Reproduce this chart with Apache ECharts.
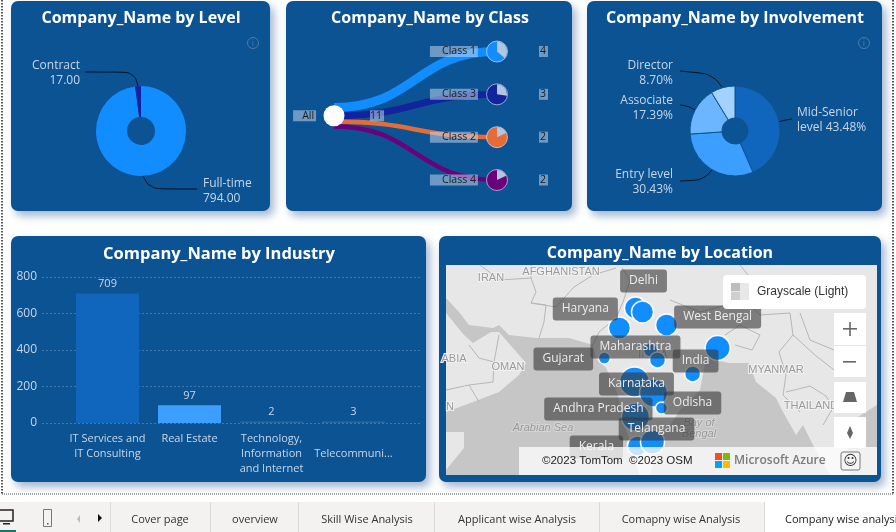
<!DOCTYPE html>
<html><head><meta charset="utf-8">
<script src="https://cdn.jsdelivr.net/npm/echarts@6/dist/echarts.min.js"></script>
<style>html,body{margin:0;padding:0;background:#fff;overflow:hidden}#c{width:896px;height:532px}</style>
</head><body><div id="c"></div>
<script>
// ---- data ----
const levelNames = ['Full-time', 'Contract'];
const levelValues = [794, 17];
const involvementNames = ['Mid-Senior level', 'Entry level', 'Associate', 'Director'];
const involvementValues = [43.48, 30.43, 17.39, 8.70];
const classNames = ['Class 1', 'Class 3', 'Class 2', 'Class 4'];
const classValues = [4, 3, 2, 2];
const classTotal = 11;
const industryNames = ['IT Services and\nIT Consulting', 'Real Estate', 'Technology,\nInformation\nand Internet', '\nTelecommuni...'];
const industryValues = [709, 97, 2, 3];
const yTicks = [0, 200, 400, 600, 800];
const bubbleLon = [77.2, 78.16, 75.01, 81.45, 88.43, 85.01, 72.95, 79.25, 80.21, 77.06, 79.67, 80.76, 77.2, 77.47, 79.53];
const bubbleLat = [28.6, 28.03, 25.74, 26.17, 22.89, 19.17, 21.46, 22.6, 21.17, 18.03, 16.46, 14.31, 13.03, 8.89, 9.46];
const bubbleCount = [121, 121, 121, 121, 156, 64, 36, 49, 64, 225, 196, 36, 196, 100, 144];
const placeNames = ['Delhi', 'Haryana', 'West Bengal', 'Maharashtra', 'Gujarat', 'India', 'Karnataka', 'Odisha', 'Andhra Pradesh', 'Telangana', 'Kerala'];
const placeLon = [78.3, 70.35, 88.43, 77.2, 67.34, 85.42, 77.34, 85.0, 72.13, 80.08, 71.86];
const placeLat = [32.6, 28.6, 27.46, 23.17, 21.46, 21.17, 17.89, 15.17, 14.31, 11.46, 8.89];
const tabNames = ['Cover page', 'overview', 'Skill Wise Analysis', 'Applicant wise Analysis', 'Comapny wise Analysis'];

// ---- styles ----
const FONT = '"Open Sans", sans-serif';
const NAVY = '#0c5394', PALE = '#c9d6e6';
const classColors = ['#118dff', '#12239e', '#e66c37', '#6b007b'];
const levelColors = ['#118dff', '#12239e'];
const involvementColors = ['#0f66bc', '#3c9eff', '#6cb5ff', '#a3d2ff'];
const barColors = ['#0f66bc', '#3c9eff', '#2a679f', '#2a679f'];

const chart = echarts.init(document.getElementById('c'), null, {renderer: 'canvas'});
const g = [];
const panel = (x, y, w, h) => g.push({type: 'rect', z: -5, shape: {x, y, width: w, height: h, r: 7},
  style: {fill: NAVY, shadowBlur: 9, shadowOffsetX: 4, shadowOffsetY: 5, shadowColor: 'rgba(50,95,150,.45)'}});
const text = (x, y, t, o = {}, z = 30) => g.push({type: 'text', z, x, y, style: Object.assign({text: t, font: `12px ${FONT}`, fill: '#222', textAlign: 'center', textVerticalAlign: 'middle'}, o)});
const line = (pts, o, z = -2) => g.push({type: 'polyline', z, shape: {points: pts}, style: Object.assign({stroke: '#b7b7b7', lineWidth: 1, fill: null}, o)});
const poly = (pts, fill, z = -3) => g.push({type: 'polygon', z, shape: {points: pts}, style: {fill}});
const rect = (x, y, w, h, fill, z = 30, r = 0, extra = {}) => g.push({type: 'rect', z, shape: {x, y, width: w, height: h, r}, style: Object.assign({fill}, extra)});

// dotted report border
line([[2, 0], [2, 494]], {stroke: '#555', lineWidth: 2, lineDash: [1.5, 1.5]}, -6);
line([[893, 0], [893, 494]], {stroke: '#555', lineWidth: 2, lineDash: [1.5, 1.5]}, -6);
line([[2, 494], [893, 494]], {stroke: '#555', lineWidth: 1, lineDash: [1, 1]}, -6);

panel(11, 1, 259, 210); panel(286, 1, 286, 210); panel(587, 1, 295, 210); panel(11, 236, 415, 246); panel(439, 236, 442, 246);
const titleStyle = {font: `700 16px ${FONT}`, fill: '#fff'};
text(141, 18, 'Company_Name by Level', titleStyle);
text(430, 18, 'Company_Name by Class', titleStyle);
text(735, 18, 'Company_Name by Involvement', titleStyle);
text(219, 254, 'Company_Name by Industry', {font: `700 16.5px ${FONT}`, fill: '#fff'});
text(660, 253, 'Company_Name by Location', titleStyle);
// info icons
[[253, 43], [864, 43]].forEach(([x, y]) => {
  g.push({type: 'circle', z: 1, shape: {cx: x, cy: y, r: 5.5}, style: {fill: 'none', stroke: '#4d7aa8', lineWidth: 1}});
  text(x, y, 'i', {font: `9px ${FONT}`, fill: '#4d7aa8'}, 1);
});

// map base
const MX = 446, MY = 265, MW = 431, MH = 210;
rect(MX, MY, MW, MH, '#e7e7e7', -4);
const SEA = '#c6c6c6';
poly([[446,298],[459,312],[469,325],[493,328],[499,325],[509,335],[536,338],[569,338],[593,345],[596,358],[606,368],[612,380],[618,395],[623,422],[633,448],[639,475],[446,475],[446,470],[464,448],[464,432],[446,432],[446,412],[473,402],[499,392],[519,375],[526,363],[513,348],[499,332],[491,332],[473,343],[464,335],[446,313]], SEA);
poly([[650,475],[660,440],[680,410],[700,390],[706,358],[729,363],[749,363],[756,382],[776,398],[783,412],[796,435],[803,425],[813,445],[830,475]], SEA);
poly([[845,425],[877,405],[877,475],[850,475]], SEA);
[[[531,265],[531,278],[536,292],[531,303],[546,305],[544,322],[539,338]],
 [[531,303],[556,307],[574,287],[593,275],[616,268]],
 [[593,345],[599,332],[616,318],[623,302],[630,280],[622,268]],
 [[446,390],[469,385],[479,402]], [[469,345],[479,358],[494,362],[499,335]], [[494,362],[493,382],[469,385]],
 [[480,265],[500,280],[531,278]],
 [[760,315],[790,313],[793,335],[779,352],[786,375],[783,395],[800,412]],
 [[786,392],[810,386],[826,396],[833,408],[823,425]],
 [[670,300],[700,312],[745,300],[760,315]], [[735,345],[752,350],[760,335],[740,325],[725,335]],
 [[800,313],[810,340],[834,350]], [[793,335],[815,355],[834,370]],
 [[740,265],[760,290],[790,300],[834,275]]
].forEach(p => line(p));
const mapLbl = (x, y, t, extra = {}) => text(x, y, t, Object.assign({font: `11px "Liberation Sans", sans-serif`, fill: '#9a9a9a', stroke: '#f2f2f2', lineWidth: 2}, extra), -1);
mapLbl(491, 278, 'IRAN'); mapLbl(561, 272, 'AFGHANISTAN'); mapLbl(454, 359, 'ABIA'); mapLbl(508, 367, 'OMAN');
mapLbl(450, 407, 'N'); mapLbl(776, 370, 'MYANMAR'); mapLbl(811, 406, 'THAILAND'); mapLbl(653, 355, 'INDIA');
mapLbl(543, 428, 'Arabian Sea', {font: `italic 11px "Liberation Sans", sans-serif`, fill: '#999', stroke: '#d6d6d6'});
mapLbl(699, 428, 'Bay of\nBengal', {font: `italic 11px "Liberation Sans", sans-serif`, fill: '#999', stroke: '#d6d6d6'});

// map overlays
rect(519, 447, 358, 28, 'rgba(255,255,255,.76)');
text(542, 461, '©2023 TomTom  ©2023 OSM', {font: `11.5px "Liberation Sans", sans-serif`, fill: '#222', textAlign: 'left'}, 31);
rect(715, 453, 7, 7, '#f25022', 31); rect(723, 453, 7, 7, '#7fba00', 31); rect(715, 461, 7, 7, '#00a4ef', 31); rect(723, 461, 7, 7, '#ffb900', 31);
text(734, 461, 'Microsoft Azure', {font: `600 12px "Open Sans", sans-serif`, fill: '#7a7a7a', textAlign: 'left'}, 31);
rect(841, 452, 19, 18, '#f5f5f5', 31, 2, {stroke: '#777', lineWidth: 1});
text(850.5, 461, '☺', {font: `14px "DejaVu Sans", sans-serif`, fill: '#333'}, 32);
rect(723, 275, 143, 34, '#fff', 30, 4);
rect(731, 283, 18, 17, '#e8e8e8', 31, 1); rect(731, 283, 9, 8, '#bdbdbd', 32); rect(731, 292, 9, 8, '#cfcfcf', 32);
text(757, 292, 'Grayscale (Light)', {font: `12px "Liberation Sans", sans-serif`, fill: '#333', textAlign: 'left'}, 31);
rect(834, 313, 32, 32, '#fff'); rect(834, 346, 32, 31, '#fff'); rect(834, 382, 32, 31, '#fff'); rect(834, 417, 32, 31, '#fff');
rect(843, 328, 14, 1.6, '#666', 31); rect(849.2, 322, 1.6, 14, '#666', 31); rect(843, 361, 13, 1.6, '#666', 31);
g.push({type: 'polygon', z: 31, shape: {points: [[846, 392], [854, 392], [857, 402], [843, 402]]}, style: {fill: '#666'}});
g.push({type: 'polygon', z: 31, shape: {points: [[850, 426], [853, 433], [850, 439], [847, 433]]}, style: {fill: '#666'}});

// tab bar
rect(0, 502, 896, 30, '#f3f2f1', -4);
rect(764, 502, 132, 30, '#fff', -3);
[110, 210, 298, 434, 599, 764].forEach(x => rect(x, 502, 1, 30, '#dcdad8', -2));
const tabX = [160, 255, 367, 517, 681];
tabNames.forEach((t, i) => text(tabX[i], 520, t, {font: `11px ${FONT}`, fill: '#333'}, 1));
text(785, 520, 'Company wise analysis', {font: `11px ${FONT}`, fill: '#222', textAlign: 'left'}, 1);
g.push({type: 'rect', z: 1, shape: {x: -2, y: 510, width: 15, height: 11}, style: {fill: 'none', stroke: '#222', lineWidth: 1.5}});
rect(3, 523, 7, 1.5, '#222', 1);
rect(0, 530, 16, 2, '#117865', 1);
g.push({type: 'rect', z: 1, shape: {x: 43.5, y: 509.5, width: 8, height: 17}, style: {fill: 'none', stroke: '#777', lineWidth: 1}});
rect(47, 523, 1.5, 1.5, '#555', 1);
g.push({type: 'polygon', z: 1, shape: {points: [[80, 515], [80, 523], [77, 519]]}, style: {fill: '#bbb'}});
g.push({type: 'polygon', z: 1, shape: {points: [[98, 514], [98, 522], [102, 518]]}, style: {fill: '#111'}});

// pie label placement
const levelPlace = [
  {x: 203, y: 191, align: 'left', verticalAlign: 'middle', labelLinePoints: [[143, 176], [150, 189], [197, 189]]},
  {x: 80, y: 73.5, align: 'right', verticalAlign: 'middle', labelLinePoints: [[138, 86], [134, 72], [85, 72]]}];
const invPlace = [
  {x: 797, y: 120, align: 'left', verticalAlign: 'middle', labelLinePoints: [[778, 122], [785, 120], [792, 119]]},
  {x: 673, y: 182, align: 'right', verticalAlign: 'middle', labelLinePoints: [[712, 170], [703, 180], [680, 181]]},
  {x: 673, y: 108, align: 'right', verticalAlign: 'middle', labelLinePoints: [[695, 110], [688, 106], [680, 105]]},
  {x: 673, y: 73.5, align: 'right', verticalAlign: 'middle', labelLinePoints: [[722, 87], [712, 74], [680, 71]]}];
const pieCommon = {type: 'pie', startAngle: 90, clockwise: true, silent: true,
  label: {show: true, position: 'outer', color: PALE, fontFamily: FONT, fontSize: 12, lineHeight: 15, overflow: 'none'},
  labelLine: {show: true, smooth: .4, lineStyle: {color: '#06101c', width: 1}}};

const option = {
  animation: false,
  backgroundColor: '#fff',
  textStyle: {fontFamily: FONT},
  graphic: {elements: g},
  grid: [
    {left: 42, width: 378, top: 277, height: 146},
    {left: 66.5, width: 328, top: 277, height: 146},
    {left: 285.1, width: 277.1, top: 51.5, height: 128.5},
    {left: MX, width: MW, top: MY, height: MH}
  ],
  xAxis: [
    {gridIndex: 0, type: 'value', show: false, min: 0, max: 1},
    {gridIndex: 1, type: 'category', data: industryNames,
      axisLine: {show: false}, axisTick: {show: false},
      axisLabel: {interval: 0, color: PALE, fontSize: 11, lineHeight: 15, margin: 8, fontFamily: FONT, hideOverlap: false}},
    {gridIndex: 2, type: 'value', show: false, min: -0.3, max: 1.4},
    {gridIndex: 3, type: 'value', show: false, min: 51.31, max: 110.21}
  ],
  yAxis: [
    {gridIndex: 0, type: 'value', min: yTicks[0], max: yTicks[yTicks.length - 1], interval: 200,
      axisLine: {show: false}, axisTick: {show: false},
      axisLabel: {color: PALE, fontSize: 12, margin: 5, fontFamily: FONT},
      splitLine: {lineStyle: {color: '#3f78ad', type: [2, 2], width: 1}}},
    {gridIndex: 1, type: 'value', show: false, min: 0, max: 800, splitLine: {show: false}},
    {gridIndex: 2, type: 'value', show: false, min: 0, max: 3, inverse: true, splitLine: {show: false}},
    {gridIndex: 3, type: 'value', show: false, min: 4.74, max: 34.74, splitLine: {show: false}}
  ],
  series: [
    Object.assign({}, pieCommon, {center: [141, 131], radius: [14, 45],
      data: levelNames.map((n, i) => ({name: n, value: levelValues[i], itemStyle: {color: levelColors[i]}})),
      label: Object.assign({}, pieCommon.label, {formatter: p => `${p.name}\n${p.value.toFixed(2)}`}),
      labelLayout: p => levelPlace[p.dataIndex]}),
    Object.assign({}, pieCommon, {center: [735, 131], radius: [13, 45],
      itemStyle: {borderColor: NAVY, borderWidth: 1},
      data: involvementNames.map((n, i) => ({name: n, value: involvementValues[i], itemStyle: {color: involvementColors[i]}})),
      label: Object.assign({}, pieCommon.label, {formatter: p => `${p.name.replace('Senior ', 'Senior\n')}${p.name.includes('Senior') ? ' ' : '\n'}${p.value.toFixed(2)}%`}),
      labelLayout: p => invPlace[p.dataIndex]}),
    {type: 'bar', xAxisIndex: 1, yAxisIndex: 1, barWidth: 63, barMinHeight: 1.5, silent: true,
      data: industryValues.map((v, i) => ({value: v, itemStyle: {color: barColors[i]}})),
      label: {show: true, position: 'top', distance: 4, color: PALE, fontSize: 11, fontFamily: FONT}},
    // decomposition links
    {type: 'custom', xAxisIndex: 2, yAxisIndex: 2, silent: true, clip: false, z: 3,
      data: classValues.map((v, i) => [v, i]),
      encode: {x: -1, y: -1},
      renderItem: (params, api) => {
        const i = params.dataIndex, v = api.value(0);
        const before = classValues.slice(0, i).reduce((a, b) => a + b, 0);
        const off = (before + v / 2 - classTotal / 2) * 0.055;
        const a = api.coord([0, 1.5 + off]), b = api.coord([1, i]);
        const mx = (a[0] + b[0]) / 2;
        return {type: 'bezierCurve', shape: {x1: a[0], y1: a[1], x2: b[0], y2: b[1], cpx1: mx, cpy1: a[1], cpx2: mx, cpy2: b[1]},
          style: {fill: 'none', stroke: classColors[i], lineWidth: v * 2.2 + .2}};
      }},
    // decomposition nodes
    {type: 'custom', xAxisIndex: 2, yAxisIndex: 2, silent: true, clip: false, z: 4,
      data: classValues.map((v, i) => [v, i]),
      encode: {x: -1, y: -1},
      renderItem: (params, api) => {
        const i = params.dataIndex, v = api.value(0), c = api.coord([1, i]);
        const s = -Math.PI / 2, e = s + 2 * Math.PI * v / classTotal;
        return {type: 'group', children: [
          {type: 'circle', shape: {cx: c[0], cy: c[1], r: 10.5}, style: {fill: classColors[i], stroke: 'rgba(255,255,255,.55)', lineWidth: 1}},
          {type: 'sector', shape: {cx: c[0], cy: c[1], r: 10, r0: 0, startAngle: s, endAngle: e, clockwise: true}, style: {fill: '#b3c6df'}}
        ]};
      }},
    // root node
    {type: 'scatter', xAxisIndex: 2, yAxisIndex: 2, silent: true, z: 5, symbolSize: 21,
      itemStyle: {color: '#fff', opacity: 1}, data: [[0, 1.5]]},
    // decomposition labels
    {type: 'scatter', xAxisIndex: 2, yAxisIndex: 2, silent: true, clip: false, z: 6, symbolSize: 0,
      itemStyle: {opacity: 1},
      label: {show: true, position: 'left', distance: 0, color: '#1c1c1c', fontSize: 10.5, fontFamily: FONT,
        backgroundColor: 'rgba(200,218,240,.52)', height: 11, lineHeight: 11, padding: [0, 2, 0, 0], formatter: p => p.data.t},
      data: [
        {value: [-0.11, 1.5], t: 'All', label: {width: 21}},
        {value: [0.307, 1.5], t: String(classTotal), label: {width: 12}},
        ...classNames.map((n, i) => ({value: [0.883, i], t: n, label: {width: 46}})),
        ...classValues.map((v, i) => ({value: [1.313, i], t: String(v), label: {width: 7}}))
      ]},
    // map bubbles
    {type: 'scatter', xAxisIndex: 3, yAxisIndex: 3, silent: true, z: 3,
      symbolSize: d => 2 * Math.sqrt(d[2]),
      itemStyle: {color: '#118dff', borderColor: 'rgba(255,255,255,.95)', borderWidth: 1.5, opacity: 1},
      data: bubbleLon.map((x, i) => [x, bubbleLat[i], bubbleCount[i]])},
    // map place tags
    {type: 'scatter', xAxisIndex: 3, yAxisIndex: 3, silent: true, z: 5, symbolSize: 0,
      itemStyle: {opacity: 1},
      label: {show: true, position: 'inside', offset: [0, 1], color: '#ececec', fontSize: 12, fontFamily: FONT,
        backgroundColor: 'rgba(55,55,55,.6)', borderRadius: 3, padding: [5, 9, 5, 9], lineHeight: 13, formatter: p => p.data[2]},
      data: placeLon.map((x, i) => [x, placeLat[i], placeNames[i]])}
  ]
};
chart.setOption(option);
</script></body></html>
